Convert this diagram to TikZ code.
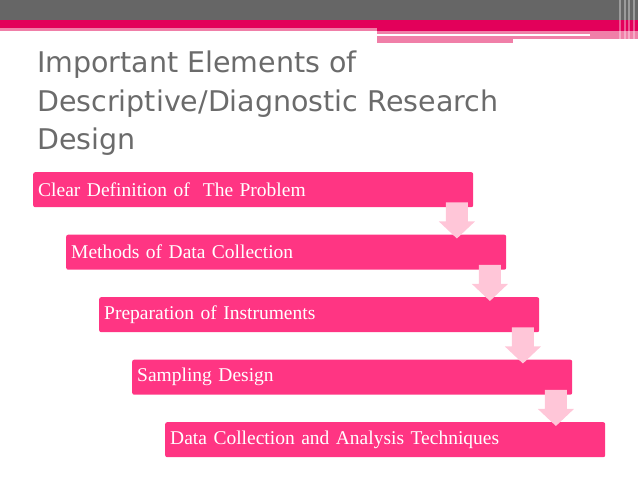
\documentclass[tikz,border=0pt]{standalone}
\usepackage{fontspec}
\setmainfont{Liberation Serif}
\newfontfamily\titlefont{DejaVu Sans}
\usepackage{xcolor}
\usepackage{tikz}
\usetikzlibrary{positioning}
\usetikzlibrary{calc}
\definecolor{bandgray}{HTML}{666666}
\definecolor{bandred}{HTML}{E3005A}
\definecolor{bandpink}{HTML}{F07FA8}
\definecolor{barpink}{HTML}{FF3583}
\definecolor{arrowpink}{HTML}{FFC6D8}
\definecolor{titlegray}{HTML}{6B6B6B}
\tikzset{
    stepbar/.style = {rectangle, rounded corners=2pt, fill=barpink, text=white, anchor=north west,
                      minimum width=440pt, minimum height=35pt, text width=430pt, align=left,
                      inner xsep=5pt, inner ysep=0pt, font=\fontsize{19.5}{21}\selectfont},
    downarrow/.style = {fill=arrowpink},
    stripe/.style = {fill=white, opacity=0.35}
}

\begin{document}
\begin{tikzpicture}[x=1pt,y=-1pt]
    \useasboundingbox (0,0) rectangle (638,478);
    % header bands
    \fill[bandgray] (0,0) rectangle (638,20);
    \fill[bandred] (0,20) rectangle (638,28);
    \fill[bandpink] (0,28) rectangle (377,31);
    \fill[bandred] (377,28) rectangle (638,31);
    \fill[bandpink] (377,31) rectangle (638,39);
    \fill[bandpink] (377,39) rectangle (513,43);
    \fill[white] (377,34) rectangle (590,36.5);
    \foreach \x in {619,624,628,633}
        \fill[stripe] (\x,0) rectangle ++(2,42);

    % title
    \node[anchor=north west, align=left, text=titlegray, inner sep=0pt,
          font=\titlefont\fontsize{28.5}{38.5}\selectfont] (title) at (37,51)
        {Important Elements of\\Descriptive/Diagnostic Research\\Design};

    % steps
    \node[stepbar] (b1) at (33,172) {Clear Definition of~ The Problem};
    \node[stepbar] (b2) at (66,234.5) {Methods of Data Collection};
    \node[stepbar] (b3) at (99,297) {Preparation of Instruments};
    \node[stepbar] (b4) at (132,359.5) {Sampling Design};
    \node[stepbar] (b5) at (165,422) {Data Collection and Analysis Techniques};

    % arrows between the steps
    \foreach \i/\j in {1/2,2/3,3/4,4/5}{
        \coordinate (t\i) at ($(b\i.south east |- b\j.north)+(-16.5,4)$);
        \fill[downarrow] (t\i) -- ++(-18,-17) -- ++(7,0) -- ++(0,-19) -- ++(22,0)
            -- ++(0,19) -- ++(7,0) -- cycle;
    }
\end{tikzpicture}
\end{document}
